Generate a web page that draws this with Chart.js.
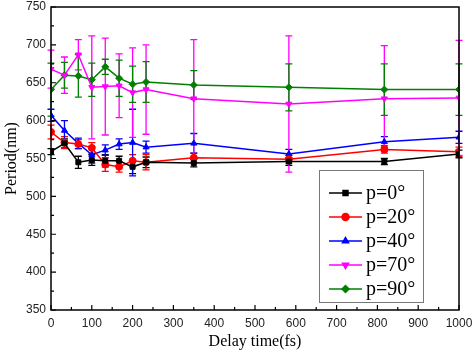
<!DOCTYPE html>
<html>
<head>
<meta charset="utf-8">
<script src="https://cdn.jsdelivr.net/npm/chart.js@4/dist/chart.umd.min.js"></script>
<style>
  html, body { margin: 0; padding: 0; background: #fff; }
  canvas { display: block; }
</style>
</head>
<body>
<canvas id="grafico" width="474" height="353"></canvas>
<script>
// Delay time (fs) for every measurement
const delayTimes = [0, 33, 67, 100, 133, 167, 200, 233, 350, 583, 817, 1000];

// Period (nm) per polarization angle, with error half-widths
const p0 = [559, 570, 545, 548, 547, 547, 539, 545, 544, 546, 546, 556];
const p0Err = [4, 6, 8, 7, 8, 6, 9, 7, 5, 5, 4, 5];
const p20 = [585, 571, 569, 564, 542, 539, 547, 545, 551, 549, 562, 559];
const p20Err = [9, 8, 6, 7, 9, 7, 8, 10, 6, 5, 5, 6];
const p40 = [607, 587, 570, 555, 561, 569, 571, 565, 570, 556, 572, 578];
const p40Err = [8, 13, 7, 11, 7, 7, 44, 8, 13, 6, 7, 8];
const p70 = [668, 660, 687, 644, 645, 646, 637, 641, 629, 622, 629, 630];
const p70Err = [25, 24, 20, 68, 64, 42, 59, 59, 78, 90, 70, 76];
const p90 = [641, 660, 659, 654, 671, 656, 648, 651, 647, 644, 641, 641];
const p90Err = [35, 17, 28, 22, 10, 24, 24, 27, 19, 31, 34, 34];

const seriesLabels = ["p=0°", "p=20°", "p=40°", "p=70°", "p=90°"];
const seriesColors = ["#000000", "#ff0000", "#0000ff", "#ff00ff", "#008000"];
const seriesStyles = ["rect", "circle", "triangle", "triangle", "rectRot"];
const seriesRotation = [0, 0, 0, 180, 0];
const seriesValues = [p0, p20, p40, p70, p90];
const seriesErrors = [p0Err, p20Err, p40Err, p70Err, p90Err];

const SERIF = "'Liberation Serif', 'Times New Roman', serif";
const SANS = "'Liberation Sans', Arial, sans-serif";

// Barras de erro
const errorBars = {
  id: "errorBars",
  beforeDatasetsDraw(chart) {
    const ctx = chart.ctx;
    const xs = chart.scales.x;
    const ys = chart.scales.y;
    ctx.save();
    ctx.lineWidth = 1.3;
    seriesValues.forEach((vals, i) => {
      ctx.strokeStyle = seriesColors[i];
      vals.forEach((v, j) => {
        const err = seriesErrors[i][j];
        const x = xs.getPixelForValue(delayTimes[j]);
        const yTop = ys.getPixelForValue(v + err);
        const yBot = ys.getPixelForValue(v - err);
        ctx.beginPath();
        ctx.moveTo(x, yTop);
        ctx.lineTo(x, yBot);
        ctx.moveTo(x - 3.5, yTop);
        ctx.lineTo(x + 3.5, yTop);
        ctx.moveTo(x - 3.5, yBot);
        ctx.lineTo(x + 3.5, yBot);
        ctx.stroke();
      });
    });
    ctx.restore();
  },
};

// Moldura e ticks internos
const frame = {
  id: "frame",
  afterDraw(chart) {
    const ctx = chart.ctx;
    const a = chart.chartArea;
    const xs = chart.scales.x;
    const ys = chart.scales.y;
    ctx.save();
    ctx.strokeStyle = "#000";
    ctx.lineWidth = 1.5;
    ctx.strokeRect(a.left, a.top, a.right - a.left, a.bottom - a.top);
    ctx.lineWidth = 1.2;
    ctx.beginPath();
    for (let v = 0; v <= 1000; v += 50) {
      const x = xs.getPixelForValue(v);
      const len = v % 100 === 0 ? 5 : 3;
      ctx.moveTo(x, a.bottom);
      ctx.lineTo(x, a.bottom - len);
    }
    for (let v = 350; v <= 750; v += 25) {
      const y = ys.getPixelForValue(v);
      const len = v % 50 === 0 ? 5 : 3;
      ctx.moveTo(a.left, y);
      ctx.lineTo(a.left + len, y);
    }
    ctx.stroke();
    ctx.restore();
  },
};

// Legenda dentro do grafico
const legendBox = {
  id: "legendBox",
  afterDraw(chart) {
    const ctx = chart.ctx;
    ctx.save();
    ctx.fillStyle = "#fff";
    ctx.fillRect(319, 170, 104, 132);
    ctx.strokeStyle = "#777";
    ctx.lineWidth = 1;
    ctx.strokeRect(319.5, 170.5, 104, 132);
    seriesLabels.forEach((label, i) => {
      const y = 193 + i * 24;
      ctx.strokeStyle = seriesColors[i];
      ctx.fillStyle = seriesColors[i];
      ctx.lineWidth = 1.5;
      ctx.beginPath();
      ctx.moveTo(329, y);
      ctx.lineTo(362, y);
      ctx.stroke();
      Chart.helpers.drawPoint(ctx, {
        pointStyle: seriesStyles[i],
        radius: 3.5,
        rotation: seriesRotation[i],
        borderWidth: 1,
      }, 345.5, y);
      ctx.fillStyle = "#000";
      ctx.font = "20px " + SERIF;
      ctx.textBaseline = "middle";
      ctx.textAlign = "left";
      ctx.fillText(label, 366, y + 1);
    });
    ctx.restore();
  },
};

const datasets = seriesValues.map((vals, i) => ({
  label: seriesLabels[i],
  data: vals.map((v, j) => ({ x: delayTimes[j], y: v })),
  borderColor: seriesColors[i],
  backgroundColor: seriesColors[i],
  borderWidth: 1.5,
  pointStyle: seriesStyles[i],
  pointRotation: seriesRotation[i],
  pointRadius: 3.5,
  pointBorderWidth: 1,
  tension: 0,
}));

new Chart(document.getElementById("grafico"), {
  type: "line",
  data: { datasets: datasets },
  options: {
    responsive: false,
    animation: false,
    layout: { padding: { top: 7, right: 15, bottom: 0, left: 0 } },
    plugins: { legend: { display: false }, tooltip: { enabled: false } },
    scales: {
      x: {
        type: "linear",
        min: 0,
        max: 1000,
        grid: { display: false, drawTicks: false },
        border: { display: false },
        ticks: {
          stepSize: 100,
          padding: 6,
          color: "#222",
          font: { family: SANS, size: 12 },
          callback: (v) => String(v),
        },
        title: {
          display: true,
          text: "Delay time(fs)",
          color: "#000",
          font: { family: SERIF, size: 16 },
          padding: { top: 0, bottom: 2 },
        },
        afterFit(scale) {
          scale.height = 43;
          scale.paddingLeft = 0;
          scale.paddingRight = 0;
        },
      },
      y: {
        type: "linear",
        min: 350,
        max: 750,
        grid: { display: false, drawTicks: false },
        border: { display: false },
        ticks: {
          stepSize: 50,
          padding: 5,
          color: "#222",
          font: { family: SANS, size: 12 },
        },
        title: {
          display: true,
          text: "Period(nm)",
          color: "#000",
          font: { family: SERIF, size: 16 },
          padding: { top: 2, bottom: 0 },
        },
        afterFit(scale) {
          scale.width = 51;
          scale.paddingTop = 0;
          scale.paddingBottom = 0;
        },
      },
    },
  },
  plugins: [errorBars, frame, legendBox],
});
</script>
</body>
</html>
